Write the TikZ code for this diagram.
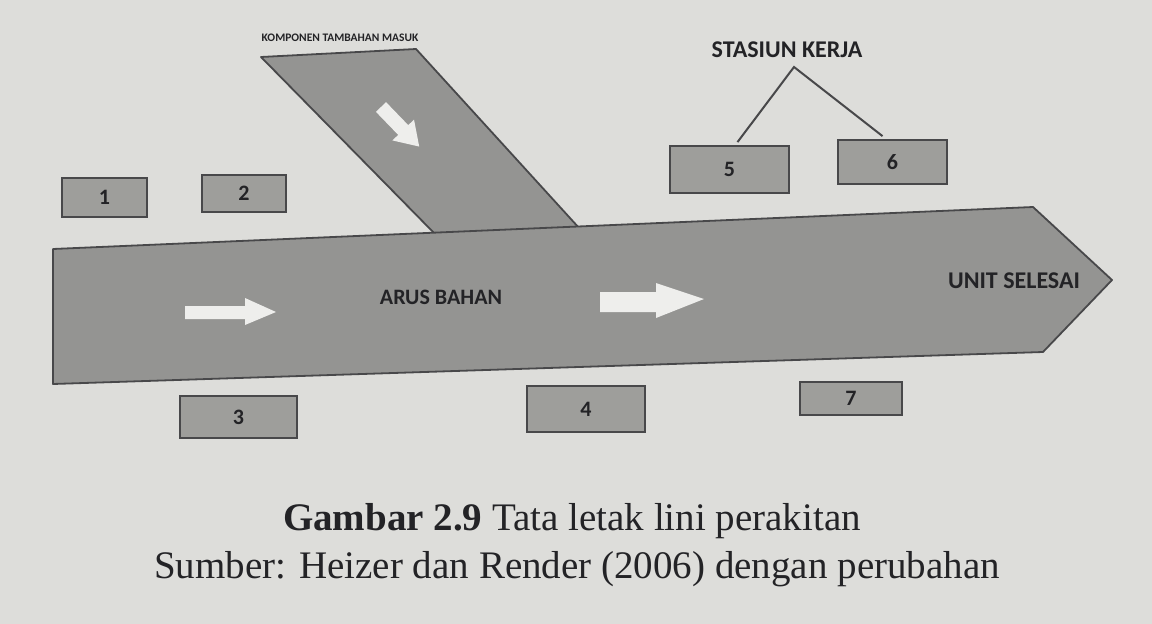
\documentclass[tikz,border=0pt]{standalone}
\usepackage{fontspec}
\setmainfont{Liberation Serif}
\setsansfont{Carlito}
\definecolor{paper}{RGB}{221,221,218}
\definecolor{shade}{RGB}{148,148,146}
\definecolor{boxfill}{RGB}{158,158,155}
\definecolor{edge}{RGB}{72,72,74}
\definecolor{ink}{RGB}{35,35,38}
\definecolor{flow}{RGB}{238,238,236}
\begin{document}
\begin{tikzpicture}[x=1pt,y=-1pt,
  station/.style={draw=edge, line width=1.8pt, fill=boxfill, inner sep=0pt,
    font=\sffamily\bfseries\fontsize{22}{24}\selectfont, text=ink},
  lbl/.style={font=\sffamily\bfseries\fontsize{24}{28}\selectfont, text=ink, inner sep=0pt},
  band/.style={draw=edge, line width=1.8pt, fill=shade, line join=round},
  flowarrow/.style={fill=flow, draw=none},
  caption/.style={font=\fontsize{39}{45}\selectfont, text=ink, inner sep=0pt}]
\fill[paper] (0,0) rectangle (1152,624);
\useasboundingbox (0,0) rectangle (1152,624);

% incoming components chute and main flow band
\draw[band] (261,57) -- (416,49) -- (580,229) -- (437,236) -- cycle;
\draw[band] (53,249) -- (1033,207) -- (1112,280) -- (1043,352) -- (53,384) -- cycle;

% white flow arrows
\fill[flowarrow] (185,306) -- (245,306) -- (245,298) -- (276,312) -- (245,325) -- (245,319) -- (185,319) -- cycle;
\fill[flowarrow] (600,292) -- (656,292) -- (656,283) -- (704,299) -- (656,318) -- (656,312) -- (600,312) -- cycle;
\begin{scope}[shift={(381,107)}, rotate=-46]
  \fill[flowarrow] (0,-7) -- (32,-7) -- (32,-15) -- (55,0) -- (32,15) -- (32,7) -- (0,7) -- cycle;
\end{scope}

% stations
\node[station, minimum width=85pt, minimum height=39pt] (b1) at (104.5,197.5) {1};
\node[station, minimum width=84pt, minimum height=37pt] (b2) at (244,193.5) {2};
\node[station, minimum width=117pt, minimum height=42pt] (b3) at (238.5,417) {3};
\node[station, minimum width=118pt, minimum height=46pt] (b4) at (586,409) {4};
\node[station, minimum width=119pt, minimum height=47pt] (b5) at (729.5,169.5) {5};
\node[station, minimum width=109pt, minimum height=44pt] (b6) at (892.5,162) {6};
\node[station, minimum width=102pt, minimum height=33pt] (b7) at (851,398.5) {7};

% labels
\node[lbl, font=\sffamily\bfseries\fontsize{22}{26}\selectfont] (arus) at (441,297) {ARUS BAHAN};
\node[lbl] (unit) at (1014,281) {UNIT SELESAI};
\node[lbl] (stasiun) at (787,50) {STASIUN KERJA};
\node[font=\sffamily\bfseries\fontsize{11.5}{13}\selectfont, text=ink, inner sep=0pt] (komp) at (340,38) {KOMPONEN TAMBAHAN MASUK};

\coordinate (apex) at (794,67);
\draw[draw=edge, line width=2pt, line join=miter] ([xshift=8pt,yshift=3pt]b5.north) -- (apex) -- ([xshift=-10pt,yshift=3pt]b6.north);

% caption
\node[caption] (cap) at (572,521) {\textbf{Gambar 2.9} Tata letak lini perakitan};
\node[caption] (src) at (577,569) {Sumber: Heizer dan Render (2006) dengan perubahan};
\end{tikzpicture}
\end{document}
